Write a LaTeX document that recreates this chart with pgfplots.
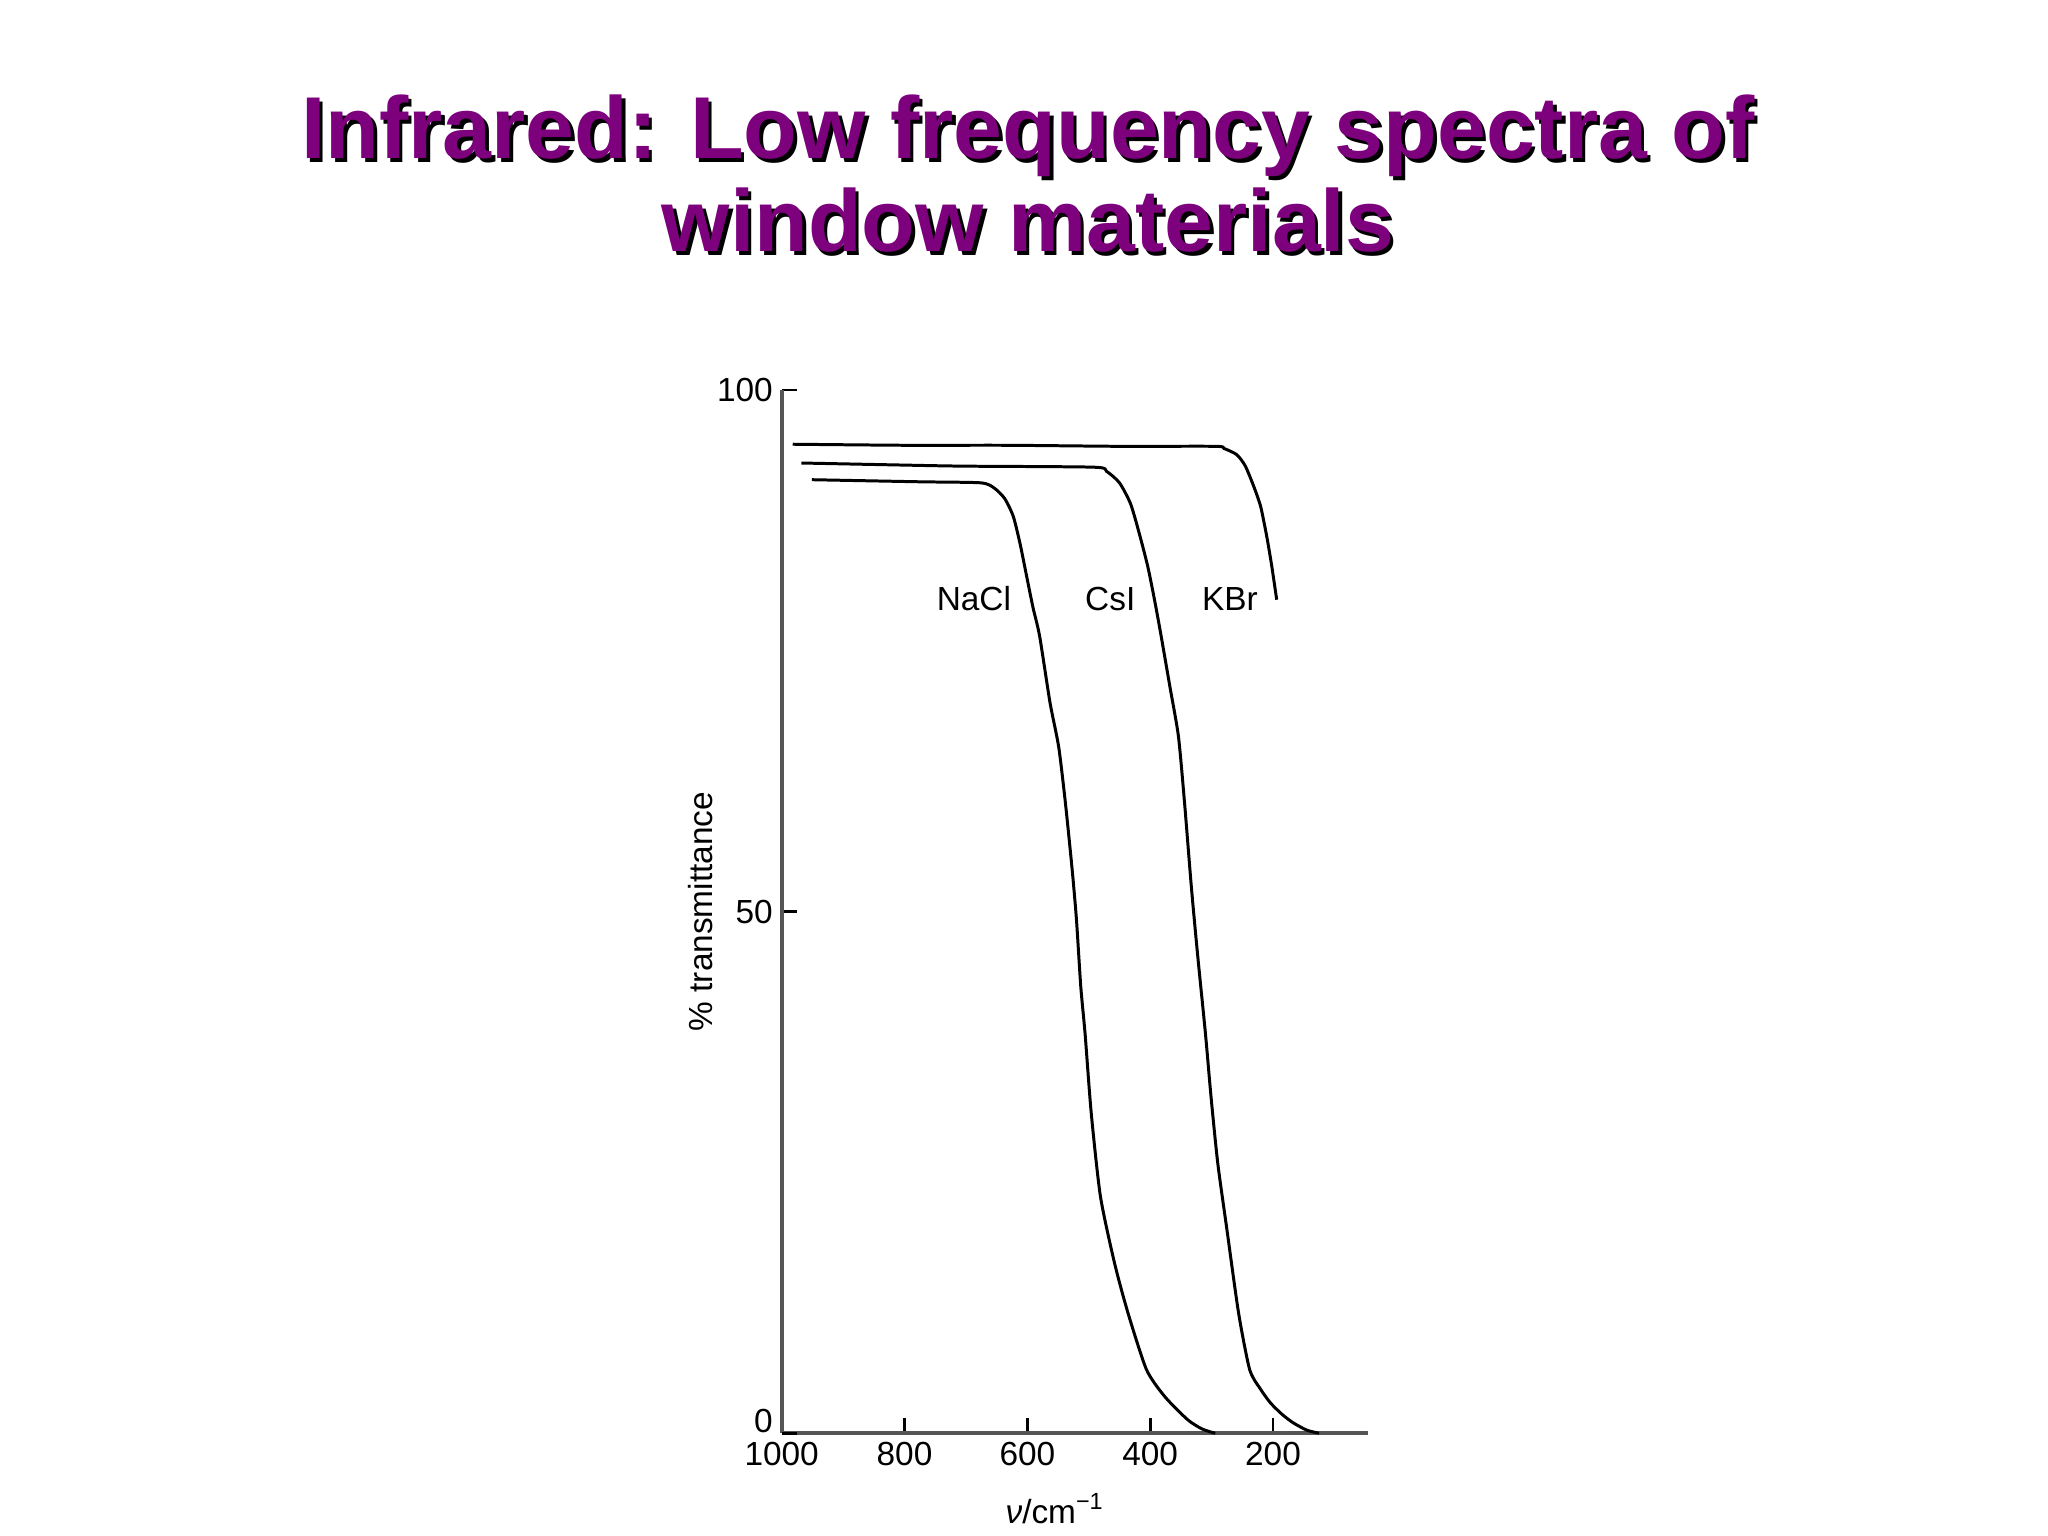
\documentclass[border=0pt]{standalone}
\usepackage{fontspec}
\setmainfont{Liberation Sans}
\usepackage{pgfplots}
\pgfplotsset{compat=1.18}

\definecolor{titlepurple}{RGB}{125,0,125}
\definecolor{axisgray}{RGB}{85,85,85}

% % transmittance against wavenumber
\pgfplotstableread{
x y
982 94.8
800 94.7
633 94.7
450 94.6
294 94.6
280 94.4
259 93.8
245 92.7
231 90.7
220 88.8
210 85.9
202 83.1
194 79.9
}\kbr

\pgfplotstableread{
x y
968 93.0
800 92.8
704 92.7
492 92.6
471 92.2
450 91.1
432 89.1
418 86.3
404 83.1
393 79.9
383 76.7
368 71.6
354 66.8
344 60.4
333 52.4
323 46.0
310 38.3
301 32.3
290 25.9
275 19.5
256 11.5
238 6.1
220 4.2
204 2.9
185 1.8
167 1.0
145 0.3
125 0.0
}\csi

\pgfplotstableread{
x y
951 91.4
775 91.2
676 91.1
654 90.6
637 89.6
623 87.9
612 85.3
602 82.4
591 79.2
580 76.4
563 70.0
549 65.8
538 60.4
527 54.0
520 49.2
513 42.8
506 38.3
496 30.7
481 22.7
458 16.3
436 11.5
406 6.1
376 3.5
339 1.3
315 0.4
294 0.0
}\nacl

\begin{document}
\begin{tikzpicture}
\path[use as bounding box] (0,0) rectangle (20.48,15.36);

% title with drop shadow
\begin{scope}[font=\fontsize{25}{28}\selectfont\bfseries]
\node[anchor=base, black] at (10.315,13.735) {Infrared: Low frequency spectra of};
\node[anchor=base, black] at (10.315,12.805) {window materials};
\node[anchor=base, titlepurple] at (10.28,13.77) {Infrared: Low frequency spectra of};
\node[anchor=base, titlepurple] at (10.28,12.84) {window materials};
\end{scope}

\begin{axis}[
  at={(7.817cm,1.027cm)}, anchor=south west,
  scale only axis,
  width=5.865cm, height=10.433cm,
  x dir=reverse,
  xmin=45, xmax=1000,
  ymin=0, ymax=100,
  axis x line=bottom, axis y line=left,
  axis line style={draw=axisgray, line width=1.1pt, -},
  tick align=inside,
  major tick length=0.15cm,
  tick style={black, line width=0.8pt},
  xtick={1000,800,600,400,200},
  xticklabels={1000,800,600,400,200},
  ytick={50,100},
  yticklabels={50,100},
  extra y ticks={0},
  extra y tick labels={0},
  extra y tick style={yticklabel style={yshift=0.12cm}},
  /pgf/number format/assume math mode=true,
  tick label style={font=\fontsize{9.5}{11}\selectfont},
  xticklabel style={yshift=1pt},
  yticklabel style={xshift=1pt},
  xlabel={{\itshape ν}/cm\textsuperscript{−1}},
  xlabel style={at={(axis description cs:0.466,-0.072)}, anchor=center, font=\fontsize{9.5}{11}\selectfont},
  ylabel={\% transmittance},
  ylabel style={at={(axis description cs:-0.138,0.5)}, anchor=center, font=\fontsize{9.5}{11}\selectfont},
  clip=false,
]
\addplot[black, line width=0.85pt, smooth, tension=0.4] table[x=x, y=y] {\kbr};
\addplot[black, line width=0.85pt, smooth, tension=0.4] table[x=x, y=y] {\csi};
\addplot[black, line width=0.85pt, smooth, tension=0.4] table[x=x, y=y] {\nacl};

\node[font=\fontsize{9.5}{11}\selectfont] at (axis cs:687,80) {NaCl};
\node[font=\fontsize{9.5}{11}\selectfont] at (axis cs:465,80) {CsI};
\node[font=\fontsize{9.5}{11}\selectfont] at (axis cs:270,80) {KBr};
\end{axis}
\end{tikzpicture}
\end{document}
